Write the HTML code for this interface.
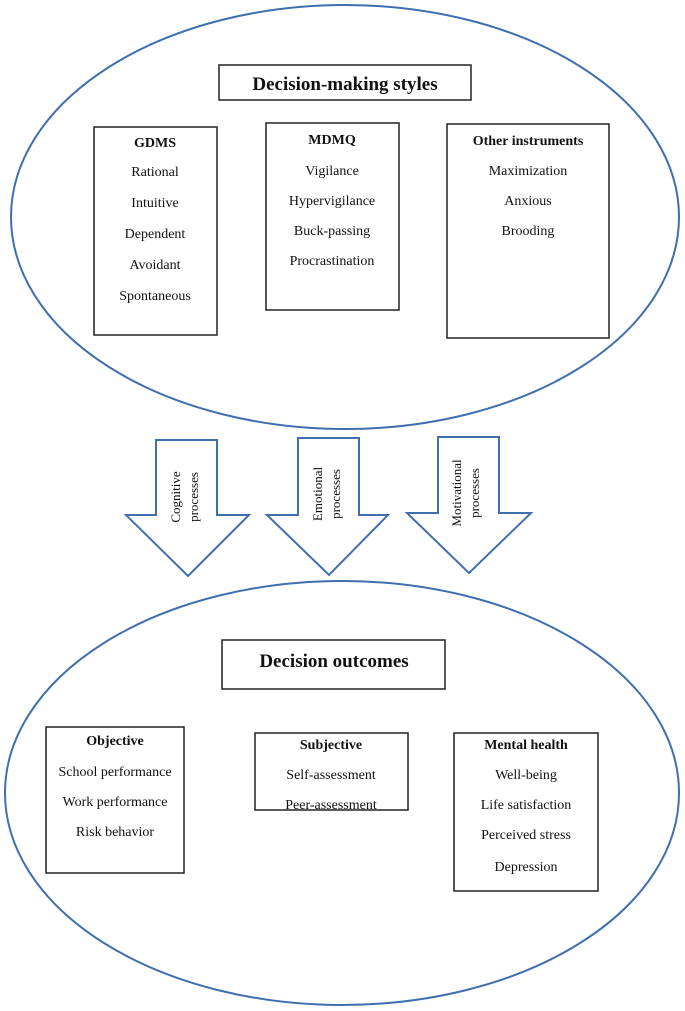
<!DOCTYPE html>
<html><head><meta charset="utf-8"><style>
html,body{margin:0;padding:0;background:#fff;}
svg{display:block;}
text{font-family:"Liberation Serif",serif;fill:#111;}
</style></head><body>
<svg width="685" height="1011" viewBox="0 0 685 1011" xmlns="http://www.w3.org/2000/svg">
<g fill="none" stroke="#3f6fae" stroke-width="2">
<ellipse cx="345" cy="217" rx="334" ry="212"/>
<ellipse cx="342" cy="793" rx="337" ry="212"/>
<path d="M156 440 L217 440 L217 515 L249 515 L188 576 L126 515 L156 515 Z"/>
<path d="M298 438 L359 438 L359 515 L388 515 L329 575 L267 515 L298 515 Z"/>
<path d="M438 437 L499 437 L499 513 L531 513 L469 573 L407 513 L438 513 Z"/>
</g>
<g fill="none" stroke="#222" stroke-width="1.5">
<rect x="219" y="65" width="252" height="35"/>
<rect x="94" y="127" width="123" height="208"/>
<rect x="266" y="123" width="133" height="187"/>
<rect x="447" y="124" width="162" height="214"/>
<rect x="222" y="640" width="223" height="49"/>
<rect x="46" y="727" width="138" height="146"/>
<rect x="255" y="733" width="153" height="77"/>
<rect x="454" y="733" width="144" height="158"/>
</g>
<g text-anchor="middle">
<text x="345" y="90" font-size="19" font-weight="bold">Decision-making styles</text>
<text x="155" y="147" font-size="14" font-weight="bold">GDMS</text>
<text x="155" y="176" font-size="14">Rational</text>
<text x="155" y="207" font-size="14">Intuitive</text>
<text x="155" y="238" font-size="14">Dependent</text>
<text x="155" y="269" font-size="14">Avoidant</text>
<text x="155" y="300" font-size="14">Spontaneous</text>
<text x="332" y="144" font-size="14" font-weight="bold">MDMQ</text>
<text x="332" y="175" font-size="14">Vigilance</text>
<text x="332" y="205" font-size="14">Hypervigilance</text>
<text x="332" y="235" font-size="14">Buck-passing</text>
<text x="332" y="265" font-size="14">Procrastination</text>
<text x="528" y="145" font-size="14" font-weight="bold">Other instruments</text>
<text x="528" y="175" font-size="14">Maximization</text>
<text x="528" y="205" font-size="14">Anxious</text>
<text x="528" y="235" font-size="14">Brooding</text>
<text x="334" y="667" font-size="19" font-weight="bold">Decision outcomes</text>
<text x="115" y="745" font-size="14" font-weight="bold">Objective</text>
<text x="115" y="776" font-size="14">School performance</text>
<text x="115" y="806" font-size="14">Work performance</text>
<text x="115" y="836" font-size="14">Risk behavior</text>
<text x="331" y="749" font-size="14" font-weight="bold">Subjective</text>
<text x="331" y="779" font-size="14">Self-assessment</text>
<text x="331" y="809" font-size="14">Peer-assessment</text>
<text x="526" y="749" font-size="14" font-weight="bold">Mental health</text>
<text x="526" y="779" font-size="14">Well-being</text>
<text x="526" y="809" font-size="14">Life satisfaction</text>
<text x="526" y="839" font-size="14">Perceived stress</text>
<text x="526" y="871" font-size="14">Depression</text>
</g>
<g text-anchor="middle" font-size="13">
<text transform="translate(180,497) rotate(-90)">Cognitive</text>
<text transform="translate(198,497) rotate(-90)">processes</text>
<text transform="translate(322,494) rotate(-90)">Emotional</text>
<text transform="translate(340,494) rotate(-90)">processes</text>
<text transform="translate(461,493) rotate(-90)">Motivational</text>
<text transform="translate(479,493) rotate(-90)">processes</text>
</g>
</svg>
</body></html>
